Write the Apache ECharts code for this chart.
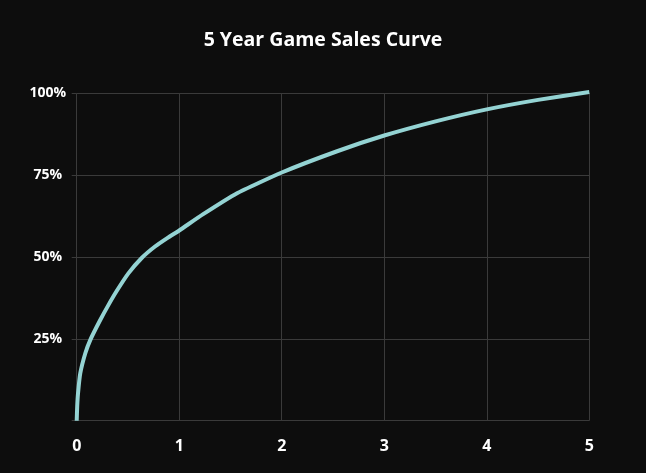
<!DOCTYPE html>
<html>
<head>
<meta charset="utf-8">
<script src="https://cdn.jsdelivr.net/npm/echarts@6/dist/echarts.min.js"></script>
<style>
html,body{margin:0;padding:0;background:#0d0d0d;}
#chart{width:646px;height:473px;}
</style>
</head>
<body>
<div id="chart"></div>
<script>
const title = "5 Year Game Sales Curve";
const years = [0, 0.005, 0.013, 0.035, 0.084, 0.133, 0.227, 0.309, 0.39, 0.504, 0.634, 0.764, 0.894, 1.0, 1.23, 1.56, 2, 2.54, 3, 3.51, 4, 4.5, 5];
const salesPct = [0, 4.5, 8.4, 14.5, 20.6, 24.7, 30.6, 35.3, 39.6, 45.0, 49.7, 53.2, 56.0, 58.1, 63.0, 69.4, 75.8, 82.3, 87.1, 91.5, 95.1, 98, 100.4];
const yTicks = [0, 25, 50, 75, 100];

const data = years.map((x, i) => [x, salesPct[i]]);
const chart = echarts.init(document.getElementById('chart'));
const gridColor = '#3a3a3a';
chart.setOption({
  backgroundColor: '#0d0d0d',
  animation: false,
  title: {
    text: title,
    left: 'center',
    top: 25,
    textStyle: { color: '#ffffff', fontFamily: 'Open Sans', fontWeight: 'bold', fontSize: 19.5 }
  },
  grid: { left: 76.7, right: 56.7, top: 93.3, bottom: 52.3, containLabel: false },
  xAxis: {
    type: 'value',
    min: 0, max: 5, interval: 1,
    axisLine: { show: false },
    axisTick: { show: false },
    splitLine: { show: true, lineStyle: { color: gridColor, width: 1 } },
    axisLabel: { color: '#ffffff', fontFamily: 'Open Sans', fontWeight: 'bold', fontSize: 16, margin: 18 }
  },
  yAxis: {
    type: 'value',
    min: 0, max: 100, interval: 25,
    axisLine: { show: false },
    axisTick: { show: true, length: 5, lineStyle: { color: gridColor } },
    splitLine: { show: true, lineStyle: { color: gridColor, width: 1 } },
    axisLabel: {
      color: '#ffffff', fontFamily: 'Open Sans', fontWeight: 'bold', fontSize: 14, margin: 29, align: 'center',
      formatter: v => (yTicks.indexOf(v) > 0 ? v + '%' : '')
    }
  },
  series: [{
    type: 'line',
    data: data,
    smooth: 0.15,
    showSymbol: false,
    clip: false,
    lineStyle: { color: '#94d3d3', width: 4, cap: 'butt', join: 'round' }
  }]
});
</script>
</body>
</html>
